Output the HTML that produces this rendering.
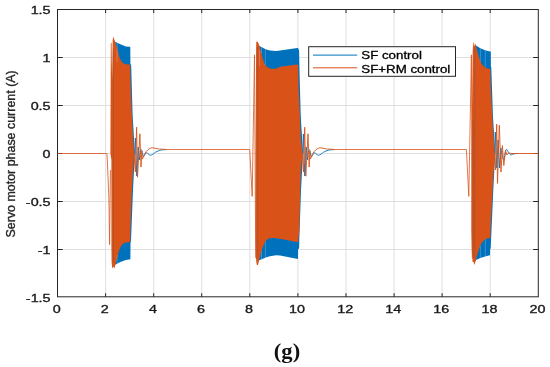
<!DOCTYPE html>
<html lang="en">
<head>
<meta charset="utf-8">
<title>Servo motor phase current (g)</title>
<style>
html,body{margin:0;padding:0;background:#fff;}
body{width:550px;height:367px;overflow:hidden;position:relative;}
svg{display:block;position:absolute;left:0;top:0;}
</style>
</head>
<body>
<svg width="550" height="367" viewBox="0 0 550 367">
<rect width="550" height="367" fill="#fff"/>
<g stroke="#DFDFDF" stroke-width="1" fill="none">
<line x1="105.6" y1="9.5" x2="105.6" y2="296.8"/>
<line x1="153.7" y1="9.5" x2="153.7" y2="296.8"/>
<line x1="201.7" y1="9.5" x2="201.7" y2="296.8"/>
<line x1="249.8" y1="9.5" x2="249.8" y2="296.8"/>
<line x1="297.9" y1="9.5" x2="297.9" y2="296.8"/>
<line x1="346.0" y1="9.5" x2="346.0" y2="296.8"/>
<line x1="394.1" y1="9.5" x2="394.1" y2="296.8"/>
<line x1="442.1" y1="9.5" x2="442.1" y2="296.8"/>
<line x1="490.2" y1="9.5" x2="490.2" y2="296.8"/>
<line x1="57.5" y1="57.5" x2="538.3" y2="57.5"/>
<line x1="57.5" y1="105.5" x2="538.3" y2="105.5"/>
<line x1="57.5" y1="153.5" x2="538.3" y2="153.5"/>
<line x1="57.5" y1="201.5" x2="538.3" y2="201.5"/>
<line x1="57.5" y1="249.5" x2="538.3" y2="249.5"/>
</g>
<g stroke="#262626" stroke-width="1" fill="none">
<rect x="57.5" y="9.5" width="480.8" height="287.3"/>
<line x1="105.6" y1="296.8" x2="105.6" y2="293.2"/>
<line x1="105.6" y1="9.5" x2="105.6" y2="13.1"/>
<line x1="153.7" y1="296.8" x2="153.7" y2="293.2"/>
<line x1="153.7" y1="9.5" x2="153.7" y2="13.1"/>
<line x1="201.7" y1="296.8" x2="201.7" y2="293.2"/>
<line x1="201.7" y1="9.5" x2="201.7" y2="13.1"/>
<line x1="249.8" y1="296.8" x2="249.8" y2="293.2"/>
<line x1="249.8" y1="9.5" x2="249.8" y2="13.1"/>
<line x1="297.9" y1="296.8" x2="297.9" y2="293.2"/>
<line x1="297.9" y1="9.5" x2="297.9" y2="13.1"/>
<line x1="346.0" y1="296.8" x2="346.0" y2="293.2"/>
<line x1="346.0" y1="9.5" x2="346.0" y2="13.1"/>
<line x1="394.1" y1="296.8" x2="394.1" y2="293.2"/>
<line x1="394.1" y1="9.5" x2="394.1" y2="13.1"/>
<line x1="442.1" y1="296.8" x2="442.1" y2="293.2"/>
<line x1="442.1" y1="9.5" x2="442.1" y2="13.1"/>
<line x1="490.2" y1="296.8" x2="490.2" y2="293.2"/>
<line x1="490.2" y1="9.5" x2="490.2" y2="13.1"/>
<line x1="57.5" y1="57.5" x2="62.7" y2="57.5"/>
<line x1="538.3" y1="57.5" x2="533.0999999999999" y2="57.5"/>
<line x1="57.5" y1="105.5" x2="62.7" y2="105.5"/>
<line x1="538.3" y1="105.5" x2="533.0999999999999" y2="105.5"/>
<line x1="57.5" y1="153.5" x2="62.7" y2="153.5"/>
<line x1="538.3" y1="153.5" x2="533.0999999999999" y2="153.5"/>
<line x1="57.5" y1="201.5" x2="62.7" y2="201.5"/>
<line x1="538.3" y1="201.5" x2="533.0999999999999" y2="201.5"/>
<line x1="57.5" y1="249.5" x2="62.7" y2="249.5"/>
<line x1="538.3" y1="249.5" x2="533.0999999999999" y2="249.5"/>
</g>
<polygon points="113.0,153.5 113.2,41.5 114.9,41.8 120.4,44.2 125.8,46.4 129.6,46.7 130.3,47.0 130.4,63.8 131.2,65.5 132.6,115.0 134.9,153.5 133.0,190.0 131.0,241.0 130.5,243.0 130.4,259.3 125.8,260.1 120.4,262.0 115.5,264.5 113.2,266.0 113.0,153.5" fill="#0072BD"/>
<polygon points="257.5,153.5 258.0,44.5 259.3,46.0 262.4,47.6 265.6,49.3 270.0,50.6 276.0,50.9 280.0,50.4 297.4,48.0 298.2,48.2 299.1,50.4 299.5,70.0 300.7,115.0 303.0,153.5 301.0,190.0 299.3,240.0 299.1,248.5 298.1,249.0 298.0,258.9 280.0,255.6 276.0,255.3 270.0,256.2 265.6,257.5 262.4,258.9 259.6,260.0 258.0,262.0 257.5,153.5" fill="#0072BD"/>
<polygon points="474.5,153.5 475.0,45.0 476.0,45.5 480.4,48.2 485.8,50.4 490.2,51.4 490.8,51.6 490.9,66.7 491.3,67.5 492.9,115.0 495.2,153.5 493.3,190.0 490.8,246.0 490.7,248.5 490.1,249.0 490.0,255.3 485.8,256.2 480.4,258.1 476.0,260.0 475.0,262.0 474.5,153.5" fill="#0072BD"/>
<polyline points="134.8,153.5 135.4,138.0 136.8,176.0 138.2,147.0 139.3,160.0 140.4,151.0" fill="none" stroke="#0072BD" stroke-width="0.9" stroke-linejoin="round"/>
<path d="M140.4,151.0 C140.6,150.8 141.1,149.4 141.4,149.7 C141.7,149.9 142.1,151.3 142.4,152.5 C142.7,153.7 143.0,156.2 143.4,156.6 C143.8,157.0 144.2,155.6 144.6,155.0 C145.0,154.4 145.6,153.1 146.1,152.8 C146.6,152.5 147.0,153.0 147.5,153.3 C148.0,153.6 148.5,154.3 149.0,154.6 C149.5,154.9 150.1,155.2 150.6,155.2 C151.1,155.2 151.6,155.0 152.2,154.7 C152.8,154.4 153.4,153.8 154.0,153.4 C154.6,153.0 155.0,152.5 155.7,152.1 C156.4,151.7 157.2,151.3 158.0,151.0 C158.8,150.7 159.8,150.3 160.8,150.1 C161.8,149.9 163.1,149.8 164.0,149.7 C164.9,149.6 165.7,149.6 166.0,149.6" fill="none" stroke="#0072BD" stroke-width="0.9" stroke-linejoin="round" stroke-linecap="round"/>
<polyline points="302.9,153.5 303.4,134.0 304.8,176.0 306.2,147.0 307.3,160.0 308.4,151.0" fill="none" stroke="#0072BD" stroke-width="0.9" stroke-linejoin="round"/>
<path d="M308.4,151.0 C308.6,150.8 309.1,149.4 309.4,149.7 C309.7,149.9 310.1,151.3 310.4,152.5 C310.7,153.7 311.0,156.2 311.4,156.6 C311.8,157.0 312.2,155.6 312.6,155.0 C313.1,154.4 313.6,153.1 314.1,152.8 C314.6,152.5 315.0,153.0 315.5,153.3 C316.0,153.6 316.5,154.3 317.0,154.6 C317.5,154.9 318.1,155.2 318.6,155.2 C319.1,155.2 319.6,155.0 320.2,154.7 C320.8,154.4 321.4,153.8 322.0,153.4 C322.6,153.0 323.0,152.5 323.7,152.1 C324.4,151.7 325.1,151.3 326.0,151.0 C326.9,150.7 327.8,150.3 328.8,150.1 C329.8,149.9 331.1,149.8 332.0,149.7 C332.9,149.6 333.7,149.6 334.0,149.6" fill="none" stroke="#0072BD" stroke-width="0.9" stroke-linejoin="round" stroke-linecap="round"/>
<polyline points="494.8,153.5 495.3,132.0 496.8,168.0 498.1,140.0 499.5,168.0 500.8,148.0 502.2,156.0" fill="none" stroke="#0072BD" stroke-width="0.9" stroke-linejoin="round"/>
<path d="M502.2,156.0 C502.4,156.6 502.9,159.2 503.3,159.6 C503.7,160.0 504.0,159.7 504.3,158.4 C504.6,157.1 504.9,153.5 505.3,152.0 C505.7,150.5 506.1,149.4 506.5,149.3 C506.9,149.2 507.3,150.6 508.0,151.5 C508.7,152.4 509.6,154.4 510.6,154.8 C511.6,155.2 512.8,154.0 514.0,153.8 C515.2,153.6 517.1,153.6 517.7,153.5" fill="none" stroke="#0072BD" stroke-width="0.9" stroke-linejoin="round" stroke-linecap="round"/>
<polygon points="110.4,153.5 110.6,100.0 110.8,43.2 111.6,42.6 111.8,62.0 112.1,80.0 112.5,52.0 112.7,40.0 113.3,36.6 113.9,38.5 114.9,40.9 116.0,44.2 117.1,48.0 118.2,52.4 119.3,56.7 120.4,59.4 122.0,62.2 124.7,64.0 127.5,64.5 130.1,64.7 130.5,80.0 131.8,115.0 134.1,153.5 131.9,190.0 130.4,230.0 130.2,242.0 125.8,242.4 123.1,243.5 120.9,246.2 119.3,250.0 117.6,255.4 116.5,260.6 115.5,264.2 114.4,268.5 113.4,266.5 112.2,268.5 111.6,262.0 111.4,246.0 111.4,160.0 110.4,153.5" fill="#D95319"/>
<polygon points="255.6,153.5 255.9,100.0 256.1,48.0 256.3,42.0 256.9,41.4 257.7,41.8 258.3,43.0 259.1,44.9 260.2,48.7 261.3,53.1 262.4,57.4 264.0,62.4 265.6,65.6 267.8,67.6 271.1,68.7 276.0,68.7 280.0,66.7 297.4,64.5 298.1,64.6 298.6,85.0 299.8,115.0 301.0,140.0 302.6,153.5 301.0,168.0 300.2,190.0 299.4,230.0 298.1,242.2 280.0,238.7 276.0,238.2 273.3,237.9 269.4,238.2 266.7,239.8 264.5,243.1 262.9,246.9 261.3,251.3 260.2,256.2 259.1,259.4 258.4,263.5 258.0,264.9 256.9,264.9 256.3,262.0 255.8,255.0 255.6,240.0 255.6,153.5" fill="#D95319"/>
<polygon points="471.6,153.5 472.0,110.0 472.7,50.0 473.6,41.4 474.2,44.0 474.5,47.0 475.2,43.3 476.0,46.0 477.1,50.4 478.2,54.7 479.3,58.5 480.9,62.4 482.5,65.1 484.7,67.3 487.4,68.4 490.3,68.9 490.7,85.0 492.2,115.0 494.7,153.5 492.6,190.0 490.7,225.0 490.3,237.9 485.8,238.7 483.1,240.9 480.9,244.2 479.3,248.0 477.6,253.4 476.5,257.3 475.5,261.0 474.4,264.9 473.5,262.0 472.5,261.6 471.8,250.0 471.4,230.0 471.6,153.5" fill="#D95319"/>
<polyline points="57.5,153.5 106.9,153.5 107.4,162.0 108.9,198.0 109.6,244.6 110.5,170.0" fill="none" stroke="#D95319" stroke-width="0.8" stroke-linejoin="round"/>
<polyline points="134.0,153.5 135.4,172.0 136.6,127.2 137.5,177.2 139.9,133.8 141.0,167.0 141.8,151.0 142.4,158.9" fill="none" stroke="#D95319" stroke-width="0.9" stroke-linejoin="round"/>
<path d="M142.4,158.9 C142.5,158.7 142.9,158.2 143.2,157.6 C143.5,157.0 143.7,156.3 144.0,155.5 C144.3,154.7 144.8,153.7 145.2,153.0 C145.6,152.3 146.1,151.8 146.5,151.3 C146.9,150.8 147.3,150.3 147.7,149.9 C148.1,149.5 148.5,149.2 149.0,148.9 C149.5,148.6 150.0,148.4 150.5,148.2 C151.0,148.0 151.6,147.8 152.2,147.8 C152.8,147.8 153.4,147.9 154.0,148.0 C154.6,148.1 155.2,148.3 156.0,148.5 C156.8,148.7 157.7,148.8 158.5,148.9 C159.3,149.0 159.6,149.0 160.8,149.1 C162.1,149.2 165.1,149.4 166.0,149.5" fill="none" stroke="#D95319" stroke-width="0.9" stroke-linejoin="round" stroke-linecap="round"/>
<polyline points="166.0,149.5 249.7,149.5 252.2,196.4 254.5,54.8 255.7,258.0" fill="none" stroke="#D95319" stroke-width="0.8" stroke-linejoin="round"/>
<polyline points="302.4,153.5 303.5,172.0 304.7,127.2 305.8,176.2 308.0,133.8 309.2,167.0 309.8,151.0 310.4,158.9" fill="none" stroke="#D95319" stroke-width="0.9" stroke-linejoin="round"/>
<path d="M310.4,158.9 C310.5,158.7 310.9,158.2 311.2,157.6 C311.5,157.0 311.7,156.3 312.0,155.5 C312.3,154.7 312.8,153.7 313.2,153.0 C313.6,152.3 314.1,151.8 314.5,151.3 C314.9,150.8 315.3,150.3 315.7,149.9 C316.1,149.5 316.5,149.2 317.0,148.9 C317.5,148.6 318.0,148.4 318.5,148.2 C319.0,148.0 319.6,147.8 320.2,147.8 C320.8,147.8 321.4,147.9 322.0,148.0 C322.6,148.1 323.2,148.3 324.0,148.5 C324.8,148.7 325.7,148.8 326.5,148.9 C327.3,149.0 327.6,149.0 328.8,149.1 C330.1,149.2 333.1,149.4 334.0,149.5" fill="none" stroke="#D95319" stroke-width="0.9" stroke-linejoin="round" stroke-linecap="round"/>
<polyline points="334.0,149.5 466.4,149.5 468.8,196.4 471.4,54.8 472.3,258.0" fill="none" stroke="#D95319" stroke-width="0.8" stroke-linejoin="round"/>
<polyline points="494.4,153.5 495.5,170.0 496.7,124.2 497.5,183.4 499.3,125.2 501.0,172.1 502.4,145.6 503.8,165.6 505.5,150.7 507.0,155.0 508.5,153.0 512.0,153.5 516.0,153.5 538.3,153.5" fill="none" stroke="#D95319" stroke-width="0.9" stroke-linejoin="round"/>
<g fill="none" stroke-linecap="butt">
<line x1="113.5" y1="50" x2="113.5" y2="262" stroke="#5f5350" stroke-opacity="0.4" stroke-width="0.8"/>
<line x1="257.6" y1="47" x2="257.6" y2="258" stroke="#5f5350" stroke-opacity="0.4" stroke-width="0.8"/>
<line x1="474.9" y1="46" x2="474.9" y2="258" stroke="#5f5350" stroke-opacity="0.4" stroke-width="0.8"/>
<line x1="473.3" y1="120" x2="473.3" y2="258" stroke="#5f5350" stroke-opacity="0.4" stroke-width="0.8"/>
<line x1="117.2" y1="43" x2="117.2" y2="48.5" stroke="#ffffff" stroke-opacity="0.22" stroke-width="1"/>
<line x1="117.2" y1="255" x2="117.2" y2="263.5" stroke="#ffffff" stroke-opacity="0.22" stroke-width="1"/>
<line x1="261.5" y1="47.2" x2="261.5" y2="53.5" stroke="#ffffff" stroke-opacity="0.22" stroke-width="1"/>
<line x1="261.5" y1="251" x2="261.5" y2="259" stroke="#ffffff" stroke-opacity="0.22" stroke-width="1"/>
<line x1="265.4" y1="49.4" x2="265.4" y2="65" stroke="#ffffff" stroke-opacity="0.22" stroke-width="1"/>
<line x1="265.4" y1="242" x2="265.4" y2="257.4" stroke="#ffffff" stroke-opacity="0.22" stroke-width="1"/>
<line x1="480.4" y1="48.4" x2="480.4" y2="61.5" stroke="#ffffff" stroke-opacity="0.22" stroke-width="1"/>
<line x1="480.4" y1="245.5" x2="480.4" y2="258" stroke="#ffffff" stroke-opacity="0.22" stroke-width="1"/>
<line x1="485.3" y1="50.4" x2="485.3" y2="67.3" stroke="#ffffff" stroke-opacity="0.22" stroke-width="1"/>
<line x1="485.3" y1="239.2" x2="485.3" y2="256" stroke="#ffffff" stroke-opacity="0.22" stroke-width="1"/>
<line x1="117.1" y1="48.5" x2="117.1" y2="62" stroke="#ffffff" stroke-opacity="0.3" stroke-width="0.7"/>
<line x1="259.5" y1="50" x2="259.5" y2="66" stroke="#ffffff" stroke-opacity="0.3" stroke-width="0.7"/>
</g>
<g font-family="Liberation Sans, Arial, Helvetica, sans-serif" font-size="11.5" fill="#1a1a1a" stroke="#1a1a1a" stroke-width="0.35">
<text transform="translate(56.7,313.4) scale(1.25,1)" text-anchor="middle">0</text>
<text transform="translate(104.8,313.4) scale(1.25,1)" text-anchor="middle">2</text>
<text transform="translate(152.9,313.4) scale(1.25,1)" text-anchor="middle">4</text>
<text transform="translate(200.9,313.4) scale(1.25,1)" text-anchor="middle">6</text>
<text transform="translate(249.0,313.4) scale(1.25,1)" text-anchor="middle">8</text>
<text transform="translate(297.1,313.4) scale(1.25,1)" text-anchor="middle">10</text>
<text transform="translate(345.2,313.4) scale(1.25,1)" text-anchor="middle">12</text>
<text transform="translate(393.3,313.4) scale(1.25,1)" text-anchor="middle">14</text>
<text transform="translate(441.3,313.4) scale(1.25,1)" text-anchor="middle">16</text>
<text transform="translate(489.4,313.4) scale(1.25,1)" text-anchor="middle">18</text>
<text transform="translate(537.5,313.4) scale(1.25,1)" text-anchor="middle">20</text>
<text transform="translate(50.6,14.4) scale(1.25,1)" text-anchor="end">1.5</text>
<text transform="translate(50.6,62.4) scale(1.25,1)" text-anchor="end">1</text>
<text transform="translate(50.6,110.4) scale(1.25,1)" text-anchor="end">0.5</text>
<text transform="translate(50.6,158.4) scale(1.25,1)" text-anchor="end">0</text>
<text transform="translate(50.6,206.4) scale(1.25,1)" text-anchor="end">-0.5</text>
<text transform="translate(50.6,254.4) scale(1.25,1)" text-anchor="end">-1</text>
<text transform="translate(50.6,301.7) scale(1.25,1)" text-anchor="end">-1.5</text>
</g>
<text transform="translate(15.2,153.9) rotate(-90) scale(1.02,1)" text-anchor="middle" font-family="Liberation Sans, Arial, Helvetica, sans-serif" font-size="12.2" fill="#262626" stroke="#262626" stroke-width="0.35">Servo motor phase current (A)</text>
<rect x="308.7" y="46.7" width="146.8" height="29.6" fill="#fff" stroke="#262626" stroke-width="1"/>
<line x1="313" y1="55.1" x2="357.2" y2="55.1" stroke="#0072BD" stroke-width="1"/>
<line x1="313" y1="67.8" x2="357.2" y2="67.8" stroke="#D95319" stroke-width="1"/>
<g font-family="Liberation Sans, Arial, Helvetica, sans-serif" font-size="10.6" fill="#000" stroke="#000" stroke-width="0.3">
<text transform="translate(361.3,59.3) scale(1.255,1)">SF control</text>
<text transform="translate(361.3,72.9) scale(1.255,1)">SF+RM control</text>
</g>
<text transform="translate(287,357.7) scale(1.05,1)" text-anchor="middle" font-family="Liberation Serif, Times New Roman, serif" font-weight="bold" font-size="21.5" fill="#111">(g)</text>
</svg>
</body>
</html>
